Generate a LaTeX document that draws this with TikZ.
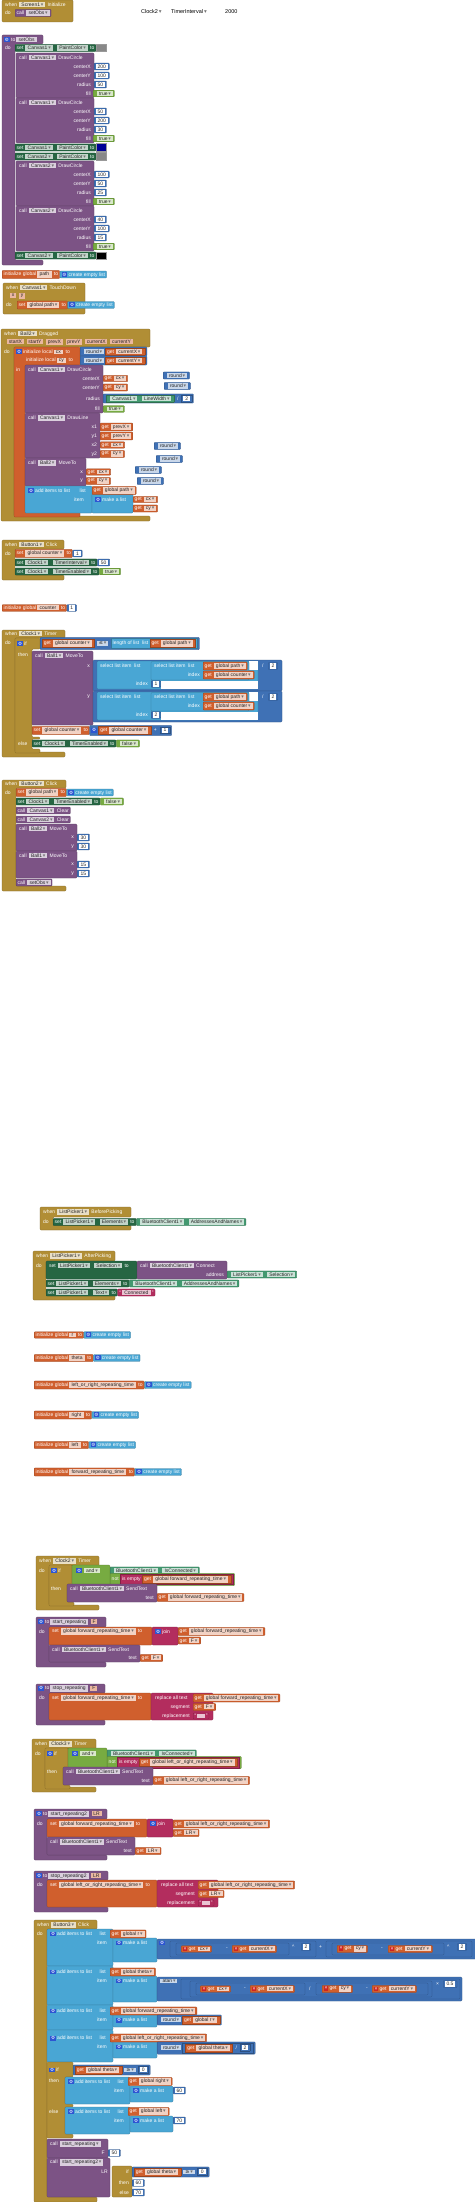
\documentclass[tikz,border=0pt]{standalone}
\usepackage{fontspec}
\setmainfont{Liberation Sans}
\newfontfamily\symf{DejaVu Sans}
\usetikzlibrary{positioning}
\definecolor{ev}{RGB}{177,142,53}
\definecolor{pr}{RGB}{124,83,133}
\definecolor{vr}{RGB}{208,95,45}
\definecolor{cs}{RGB}{38,102,67}
\definecolor{cg}{RGB}{67,153,112}
\definecolor{mt}{RGB}{63,113,181}
\definecolor{ls}{RGB}{73,166,212}
\definecolor{lg}{RGB}{119,171,65}
\definecolor{tt}{RGB}{179,45,94}
\definecolor{gearc}{RGB}{45,85,210}
\definecolor{errc}{RGB}{205,35,35}
\definecolor{swgray}{RGB}{136,136,136}
\definecolor{swblue}{RGB}{0,0,150}
\newcommand\fs{\fontsize{5}{6}\selectfont}
\setlength\fboxsep{0.8pt}
\setlength\fboxrule{0.25pt}
\newcommand\arr{\,{\symf\textcolor{black!55}{▾}}}
\newcommand\fld[2]{\hspace{2pt}\colorbox{#1!28!white}{\hspace{1.5pt}\textcolor{black!85}{#2}\arr\hspace{1pt}}\hspace{1pt}}
\newcommand\tfld[2]{\hspace{1pt}\colorbox{#1!28!white}{\hspace{1.5pt}\textcolor{black!85}{#2}\hspace{1.5pt}}\hspace{1pt}}
\newcommand\nfld[1]{\colorbox{white}{\hspace{1pt}\textcolor{black!85}{#1}\hspace{1pt}}}
\newcommand\inb[2]{\fcolorbox{#1!72!black}{#1}{\hspace{1pt}#2\hspace{1pt}}}
\newcommand\numb[1]{\inb{mt}{\nfld{#1}}}
\newcommand\getb[1]{\inb{vr}{get\fld{vr}{#1}}}
\newcommand\parf[1]{\colorbox{vr!45!white}{\hspace{1pt}\textcolor{black!85}{#1}\hspace{1pt}}}
\newcommand\gearb{\colorbox{gearc}{\textcolor{white}{\symf\fontsize{4.5}{4.5}\selectfont ⚙}}}
\newcommand\errb{\colorbox{errc}{\textcolor{white}{×}}}
% C-shaped block: left, top, head right, head bottom, column right, bar right, bottom, colour
\newcommand\cb[8]{\draw[bk=#8] (#1,#2) -| (#3,#4) -| (#5,#7-5) -| (#6,#7) -- (#1,#7) -- cycle;}
\newcommand\setcol[4]{%
  \node[lf=cs] (#1) at (15,#2) {set\fld{cs}{#3}\ \fld{cs}{PaintColor} to\hspace{3pt}};
  \node[sw=#4, right=0pt of #1] (#1c) {};}
\newcommand\dcirc[6]{%
  \draw[bk=pr] (16,#2) rectangle (94,#2+45);
  \node[tx] (#1) at (19,#2+4.5) {call\fld{pr}{#3} DrawCircle};
  \foreach \l/\v [count=\i] in {centerX/#4,centerY/#5,radius/#6}{
    \node[txr] (#1l\i) at (91,#2+4.5+9*\i) {\l};
    \node[lf=mt] (#1v\i) at (94,#2+4.5+9*\i) {\nfld{\v}};}
  \node[txr] (#1l4) at (91,#2+40.5) {fill};
  \node[lf=lg] (#1v4) at (93,#2+40.5) {\fld{lg}{true}};}
\newcommand\mvto[4]{%
  \draw[bk=pr] (16,#2) rectangle (77,#2+27);
  \node[tx] (#1) at (19,#2+4.5) {call\fld{pr}{#3} MoveTo};
  \node[txr] (#1x) at (74,#2+13.5) {x};
  \node[lf=mt] (#1xv) at (77,#2+13.5) {\nfld{#4}};
  \node[txr] (#1y) at (74,#2+22.5) {y};
  \node[lf=mt] (#1yv) at (77,#2+22.5) {\nfld{#4}};}
\newcommand\selarg[3]{%
  \draw[bk=mt] (93,#2) rectangle (282,#2+31);
  \draw[bk=ls] (97,#2+1) rectangle (258,#2+29);
  \fill[white] (161,#2+21) rectangle (258.3,#2+29.3);
  \fill[white] (249,#2+1) rectangle (258.3,#2+10);
  \draw[bk=ls] (151,#2+1.5) rectangle (249,#2+20);
  \node[tx] (#1a) at (100,#2+6) {select list item\ \ list};
  \node[tx] (#1b) at (154,#2+6) {select list item\ \ list};
  \node[lf=vr] (#1c) at (203,#2+6) {get\fld{vr}{global path}};
  \node[txr] (#1d) at (200,#2+15) {index};
  \node[lf=vr] (#1e) at (203,#2+15) {get\fld{vr}{global counter}};
  \node[txr] (#1f) at (148,#2+24) {index};
  \node[lf=mt] (#1g) at (151,#2+24) {\nfld{#3}};
  \node[tx] (#1h) at (262,#2+6) {/};
  \node[lf=mt] (#1i) at (268,#2+6) {\nfld{2}};}
\tikzset{
  bk/.style={fill=#1, draw=#1!72!black, line width=.25pt, rounded corners=1pt},
  lf/.style={anchor=west, inner xsep=1.6pt, inner ysep=.9pt, text=white, font=\fs,
    fill=#1, draw=#1!72!black, line width=.25pt, rounded corners=.8pt},
  tx/.style={anchor=west, inner sep=0pt, text=white, font=\fs},
  txr/.style={tx, anchor=east},
  sw/.style={anchor=west, fill=#1, draw=black!40, line width=.5pt,
    minimum width=10pt, minimum height=7.5pt, inner sep=0pt},
  ghost/.style={anchor=west, inner sep=0pt, font=\fontsize{5.5}{6}\selectfont}
}
\begin{document}
\begin{tikzpicture}[x=1pt,y=-1pt]
\useasboundingbox (0,0) rectangle (474,2202);
\fill[white] (0,0) rectangle (474,2202);
% Screen1.Initialize
\draw[bk=ev] (2,0) rectangle (73,22);
\node[tx] (scr) at (5,4.5) {when\fld{ev}{Screen1} Initialize};
\node[tx] (scrdo) at (5,13) {do};
\node[lf=pr] (scrc) at (15,13) {call\fld{pr}{setObs}};
\node[ghost] (gclk) at (141,12) {Clock2\arr};
\node[ghost] (gint) at (171,12) {TimerInterval\arr};
\node[ghost] (gval) at (225,12) {2000};
% to setObs
\cb{2}{35}{43}{44}{15}{43}{265}{pr}
\node[tx] (obs) at (4,39.5) {\gearb\ to\tfld{pr}{setObs}};
\node[tx] (obsdo) at (5,48) {do};
\setcol{oc1}{48}{Canvas1}{swgray}
\dcirc{oa}{53}{Canvas1}{200}{100}{50}
\dcirc{ob}{98}{Canvas1}{50}{200}{30}
\setcol{oc2}{147.5}{Canvas1}{swblue}
\setcol{oc3}{156.5}{Canvas2}{swgray}
\dcirc{od}{161}{Canvas2}{100}{50}{25}
\dcirc{oe}{206}{Canvas2}{40}{100}{15}
\setcol{oc4}{255.5}{Canvas2}{black}
% global path
\node[lf=vr] (igp) at (2,274.5) {initialize global\tfld{vr}{path} to\hspace{2pt}};
\node[lf=ls, right=0pt of igp] (igpv) {\gearb\ create empty list};
% Canvas1.TouchDown
\draw[bk=ev] (3,283) rectangle (85,314);
\node[tx] (td) at (6,287.5) {when\fld{ev}{Canvas1} TouchDown};
\node[tx] (tdp) at (10,296) {\parf{x}\ \ \parf{y}};
\node[tx] (tddo) at (6,305) {do};
\node[lf=vr] (tds) at (17,305) {set\fld{vr}{global path} to\hspace{2pt}};
\node[lf=ls, right=0pt of tds] (tdv) {\gearb\ create empty list};
% Ball2.Dragged
\cb{1}{329}{150}{347}{14}{150}{521}{ev}
\node[tx] (dr) at (4,333.5) {when\fld{ev}{Ball2} Dragged};
\node[tx] (drp) at (7,342) {\parf{startX}\ \ \parf{startY}\ \ \parf{prevX}\ \ \parf{prevY}\ \ \parf{currentX}\ \ \parf{currentY}};
\node[tx] (drdo) at (4,351.5) {do};
\cb{14}{347}{80}{365}{25}{80}{517}{vr}
\node[tx] (lc1) at (16,351.5) {\gearb\ initialize local\tfld{vr}{cx} to};
\node[tx] (lc2) at (26,360.5) {initialize local\tfld{vr}{cy} to};
\node[lf=mt] (lc1v) at (80,351.5) {\fld{mt}{round}\getb{currentX}};
\node[lf=mt] (lc2v) at (80,360.5) {\fld{mt}{round}\getb{currentY}};
\node[tx] (lcin) at (16,369.5) {in};
\draw[bk=pr] (25,365) rectangle (103,413);
\node[tx] (dc) at (28,369.5) {call\fld{pr}{Canvas1} DrawCircle};
\node[txr] (dcl1) at (100,378.5) {centerX};
\node[lf=vr] (dcv1) at (103,378.5) {get\fld{vr}{cx}};
\node[txr] (dcl2) at (100,387.5) {centerY};
\node[lf=vr] (dcv2) at (103,387.5) {get\fld{vr}{cy}};
\node[txr] (dcl3) at (100,398.5) {radius};
\node[lf=mt] (dcv3) at (103,398.5) {\ \inb{cg}{\fld{cg}{Canvas1}\ \fld{cg}{LineWidth}}\ \ /\ \ \numb{2}\ };
\node[txr] (dcl4) at (100,409) {fill};
\node[lf=lg] (dcv4) at (103,409) {\fld{lg}{true}};
\foreach \x/\y [count=\i] in {163/375.5,164/386,154/446,156/459,135/470,137/481}
  \node[lf=mt] (fr\i) at (\x,\y) {\fld{mt}{round}\hspace{3pt}};
\draw[bk=pr] (25,413) rectangle (100,458);
\node[tx] (dl) at (28,418) {call\fld{pr}{Canvas1} DrawLine};
\foreach \l/\v [count=\i] in {x1/prevX,y1/prevY,x2/cx,y2/cy}{
  \node[txr] (dll\i) at (97,418+9*\i) {\l};
  \node[lf=vr] (dlv\i) at (100,418+9*\i) {get\fld{vr}{\v}};}
\draw[bk=pr] (25,458) rectangle (86,486);
\node[tx] (mv) at (28,463) {call\fld{pr}{Ball2} MoveTo};
\node[txr] (mvl1) at (83,472) {x};
\node[lf=vr] (mvv1) at (86,472) {get\fld{vr}{cx}};
\node[txr] (mvl2) at (83,481) {y};
\node[lf=vr] (mvv2) at (86,481) {get\fld{vr}{cy}};
\draw[bk=ls] (25,486) rectangle (92,513);
\draw[bk=ls] (92,494) rectangle (133,513);
\node[tx] (ai) at (28,490.5) {\gearb\ add items to list};
\node[txr] (ail0) at (86,490.5) {list};
\node[lf=vr] (aiv) at (92,490.5) {get\fld{vr}{global path}};
\node[txr] (ail) at (84,499.5) {item};
\node[tx] (aim) at (95,499.5) {\gearb\ make a list};
\node[lf=vr] (aim1) at (133,499.5) {get\fld{vr}{cx}};
\node[lf=vr] (aim2) at (133,508.5) {get\fld{vr}{cy}};
% Button1.Click
\cb{2}{540}{64}{549}{15}{64}{580}{ev}
\node[tx] (b1) at (5,544.5) {when\fld{ev}{Button1} Click};
\node[tx] (b1do) at (5,553.5) {do};
\node[lf=vr] (b1s1) at (15,553.5) {set\fld{vr}{global counter} to\hspace{2pt}};
\node[lf=mt, right=0pt of b1s1] (b1v1) {\nfld{1}};
\node[lf=cs] (b1s2) at (15,562.5) {set\fld{cs}{Clock1}\ \fld{cs}{TimerInterval} to\hspace{2pt}};
\node[lf=mt, right=0pt of b1s2] (b1v2) {\nfld{50}};
\node[lf=cs] (b1s3) at (15,571.5) {set\fld{cs}{Clock1}\ \fld{cs}{TimerEnabled} to\hspace{2pt}};
\node[lf=lg, right=0pt of b1s3] (b1v3) {\fld{lg}{true}};
\node[lf=vr] (igc) at (2,608) {initialize global\tfld{vr}{counter} to\hspace{2pt}};
\node[lf=mt, right=0pt of igc] (igcv) {\nfld{1}};
% Clock1.Timer
\cb{2}{630}{65}{638}{15}{65}{757}{ev}
\node[tx] (c1) at (5,633.5) {when\fld{ev}{Clock1} Timer};
\node[tx] (c1do) at (5,643) {do};
\draw[bk=ev] (15,638) -| (40,649) -| (32,737) -| (40,739) -| (32,749) -| (40,753) -- (15,753) -- cycle;
\node[tx] (if1) at (17,643.5) {\gearb\ if};
\node[lf=mt] (if1c) at (40,643.5) {\getb{global counter}\fld{mt}{{\symf ≤}}\ \inb{ls}{length of list\ \ list \getb{global path}}};
\node[tx] (th1) at (18,655) {then};
\node[tx] (el1) at (18,743.5) {else};
\draw[bk=pr] (32,651) rectangle (93,725);
\node[tx] (m1) at (35,655.5) {call\fld{pr}{Ball1} MoveTo};
\node[txr] (m1x) at (90,666) {x};
\node[txr] (m1y) at (90,697) {y};
\selarg{sx}{660}{1}
\selarg{sy}{691}{2}
\node[lf=vr] (c1s) at (32,730.5) {set\fld{vr}{global counter} to\hspace{2pt}};
\node[lf=mt, right=0pt of c1s] (c1sv) {\gearb\ \getb{global counter}\ \ +\ \ \numb{1}\ };
\node[lf=cs] (c1e) at (32,743.5) {set\fld{cs}{Clock1}\ \fld{cs}{TimerEnabled} to\hspace{2pt}};
\node[lf=lg, right=0pt of c1e] (c1ev) {\fld{lg}{false}};
% Button2.Click
\cb{2}{780}{66}{788}{16}{66}{891}{ev}
\node[tx] (b2) at (5,783.5) {when\fld{ev}{Button2} Click};
\node[tx] (b2do) at (5,792.5) {do};
\node[lf=vr] (b2s1) at (16,792.5) {set\fld{vr}{global path} to\hspace{2pt}};
\node[lf=ls, right=0pt of b2s1] (b2v1) {\gearb\ create empty list};
\node[lf=cs] (b2s2) at (16,801.5) {set\fld{cs}{Clock1}\ \fld{cs}{TimerEnabled} to\hspace{2pt}};
\node[lf=lg, right=0pt of b2s2] (b2v2) {\fld{lg}{false}};
\node[lf=pr] (b2c1) at (16,810.5) {call\fld{pr}{Canvas1} Clear};
\node[lf=pr] (b2c2) at (16,819.5) {call\fld{pr}{Canvas2} Clear};
\mvto{b2m1}{824}{Ball2}{30}
\mvto{b2m2}{851}{Ball1}{15}
\node[lf=pr] (b2c3) at (16,882.5) {call\fld{pr}{setObs}};
% ListPicker1
\cb{40}{1207}{131}{1217}{53}{131}{1230}{ev}
\node[tx] (lp1) at (43,1212) {when\fld{ev}{ListPicker1} BeforePicking};
\node[tx] (lp1do) at (43,1222) {do};
\node[lf=cs] (lp1s) at (53,1222) {set\fld{cs}{ListPicker1}\ \fld{cs}{Elements} to\hspace{2pt}};
\node[lf=cg, right=0pt of lp1s] (lp1v) {\fld{cg}{BluetoothClient1}\ \fld{cg}{AddressesAndNames}};
\cb{33}{1251}{115}{1261}{46}{115}{1300}{ev}
\node[tx] (lp2) at (36,1256) {when\fld{ev}{ListPicker1} AfterPicking};
\node[tx] (lp2do) at (36,1265.5) {do};
\draw[bk=cs] (46,1261) rectangle (137,1279);
\node[tx] (lp2s1) at (49,1265.5) {set\fld{cs}{ListPicker1}\ \fld{cs}{Selection} to};
\draw[bk=pr] (137,1261) rectangle (227,1279);
\node[tx] (lp2c) at (140,1265.5) {call\fld{pr}{BluetoothClient1} Connect};
\node[txr] (lp2a) at (224,1274.5) {address};
\node[lf=cg] (lp2av) at (227,1274.5) {\fld{cg}{ListPicker1}\ \fld{cg}{Selection}};
\node[lf=cs] (lp2s2) at (46,1283.5) {set\fld{cs}{ListPicker1}\ \fld{cs}{Elements} to\hspace{2pt}};
\node[lf=cg, right=0pt of lp2s2] (lp2v2) {\fld{cg}{BluetoothClient1}\ \fld{cg}{AddressesAndNames}};
\node[lf=cs] (lp2s3) at (46,1292.5) {set\fld{cs}{ListPicker1}\ \fld{cs}{Text} to\hspace{2pt}};
\node[lf=tt, right=0pt of lp2s3] (lp2v3) {“\tfld{tt}{Connected}”};
% globals
\foreach \n/\y [count=\i] in {r/1335,theta/1358,left\_or\_right\_repeating\_time/1385,right/1415,left/1445,forward\_repeating\_time/1472}{
  \node[lf=vr] (ig\i) at (34,\y) {initialize global\tfld{vr}{\n} to\hspace{2pt}};
  \node[lf=ls, right=0pt of ig\i] (igv\i) {\gearb\ create empty list};}
% Clock2.Timer
\cb{36}{1556}{99}{1566}{49}{99}{1610}{ev}
\node[tx] (c2) at (39,1561) {when\fld{ev}{Clock2} Timer};
\node[tx] (c2do) at (39,1570.5) {do};
\draw[bk=ev] (49,1565) -| (72,1584) -| (67,1602) -| (74,1606) -- (49,1606) -- cycle;
\node[tx] (c2if) at (51,1570.5) {\gearb\ if};
\draw[bk=lg] (72,1565) rectangle (110,1585);
\node[tx] (c2and) at (76,1570.5) {\gearb\fld{lg}{and}};
\node[lf=cg] (c2con) at (110,1570.5) {\fld{cg}{BluetoothClient1}\ \fld{cg}{IsConnected}};
\node[lf=lg] (c2not) at (110,1579.5) {not \inb{tt}{is empty \getb{global forward\_repeating\_time}}};
\node[tx] (c2th) at (51,1588.5) {then};
\draw[bk=pr] (67,1584) rectangle (157,1602);
\node[tx] (c2c) at (70,1588.5) {call\fld{pr}{BluetoothClient1} SendText};
\node[txr] (c2t) at (154,1597.5) {text};
\node[lf=vr] (c2tv) at (157,1597.5) {get\fld{vr}{global forward\_repeating\_time}};
% start_repeating
\cb{36}{1617}{106}{1627}{49}{106}{1667}{pr}
\node[tx] (sr) at (38,1622) {\gearb\ to\tfld{pr}{start\_repeating}\ \parf{F}};
\node[tx] (srdo) at (39,1631.5) {do};
\draw[bk=vr] (49,1627) rectangle (152,1645);
\node[tx] (srs) at (52,1631.5) {set\fld{vr}{global forward\_repeating\_time} to};
\draw[bk=tt] (152,1627) rectangle (178,1645);
\node[tx] (srj) at (155,1631.5) {\gearb\ join};
\node[lf=vr] (srj1) at (178,1631.5) {get\fld{vr}{global forward\_repeating\_time}};
\node[lf=vr] (srj2) at (178,1640.5) {get\fld{vr}{F}};
\draw[bk=pr] (49,1645) rectangle (140,1662);
\node[tx] (src) at (52,1649.5) {call\fld{pr}{BluetoothClient1} SendText};
\node[txr] (srt) at (137,1658) {text};
\node[lf=vr] (srtv) at (140,1658) {get\fld{vr}{F}};
% stop_repeating
\cb{36}{1684}{105}{1693}{49}{105}{1725}{pr}
\node[tx] (sp) at (38,1688.5) {\gearb\ to\tfld{pr}{stop\_repeating}\ \parf{F}};
\node[tx] (spdo) at (39,1698) {do};
\draw[bk=vr] (49,1693) rectangle (151,1720);
\node[tx] (sps) at (52,1698) {set\fld{vr}{global forward\_repeating\_time} to};
\draw[bk=tt] (151,1693) rectangle (213,1720);
\node[tx] (spr) at (155,1698) {replace all text};
\node[lf=vr] (spr1) at (193,1698) {get\fld{vr}{global forward\_repeating\_time}};
\node[txr] (spr2l) at (190,1707) {segment};
\node[lf=vr] (spr2) at (193,1707) {get\fld{vr}{F}};
\node[txr] (spr3l) at (190,1716) {replacement};
\node[lf=tt] (spr3) at (193,1716) {“\tfld{tt}{\phantom{n}}”};
% Clock3.Timer
\cb{32}{1739}{96}{1749}{45}{96}{1792}{ev}
\node[tx] (c3) at (35,1744) {when\fld{ev}{Clock3} Timer};
\node[tx] (c3do) at (35,1753.5) {do};
\draw[bk=ev] (45,1748) -| (68,1767) -| (63,1785) -| (70,1789) -- (45,1789) -- cycle;
\node[tx] (c3if) at (47,1753.5) {\gearb\ if};
\draw[bk=lg] (68,1748) rectangle (107,1768);
\node[tx] (c3and) at (72,1753.5) {\gearb\fld{lg}{and}};
\node[lf=cg] (c3con) at (107,1753.5) {\fld{cg}{BluetoothClient1}\ \fld{cg}{IsConnected}};
\node[lf=lg] (c3not) at (107,1762.5) {not \inb{tt}{is empty \getb{global left\_or\_right\_repeating\_time}}};
\node[tx] (c3th) at (47,1771.5) {then};
\draw[bk=pr] (63,1767) rectangle (153,1785);
\node[tx] (c3c) at (66,1771.5) {call\fld{pr}{BluetoothClient1} SendText};
\node[txr] (c3t) at (150,1780.5) {text};
\node[lf=vr] (c3tv) at (153,1780.5) {get\fld{vr}{global left\_or\_right\_repeating\_time}};
% start_repeating2
\cb{34}{1809}{107}{1819}{47}{107}{1860}{pr}
\node[tx] (sr2) at (36,1814) {\gearb\ to\tfld{pr}{start\_repeating2}\ \parf{LR}};
\node[tx] (sr2do) at (37,1824) {do};
\draw[bk=vr] (47,1819) rectangle (147,1837);
\node[tx] (sr2s) at (50,1824) {set\fld{vr}{global forward\_repeating\_time} to};
\draw[bk=tt] (147,1819) rectangle (173,1837);
\node[tx] (sr2j) at (150,1824) {\gearb\ join};
\node[lf=vr] (sr2j1) at (173,1824) {get\fld{vr}{global left\_or\_right\_repeating\_time}};
\node[lf=vr] (sr2j2) at (173,1833) {get\fld{vr}{LR}};
\draw[bk=pr] (47,1837) rectangle (135,1855);
\node[tx] (sr2c) at (50,1842) {call\fld{pr}{BluetoothClient1} SendText};
\node[txr] (sr2t) at (132,1851) {text};
\node[lf=vr] (sr2tv) at (135,1851) {get\fld{vr}{LR}};
% stop_repeating2
\cb{34}{1871}{108}{1880}{47}{108}{1912}{pr}
\node[tx] (sp2) at (36,1876) {\gearb\ to\tfld{pr}{stop\_repeating2}\ \parf{LR}};
\node[tx] (sp2do) at (37,1885) {do};
\draw[bk=vr] (47,1880) rectangle (157,1907);
\node[tx] (sp2s) at (50,1885) {set\fld{vr}{global left\_or\_right\_repeating\_time} to};
\draw[bk=tt] (157,1880) rectangle (218,1907);
\node[tx] (sp2r) at (161,1885) {replace all text};
\node[lf=vr] (sp2r1) at (198,1885) {get\fld{vr}{global left\_or\_right\_repeating\_time}};
\node[txr] (sp2r2l) at (195,1894) {segment};
\node[lf=vr] (sp2r2) at (198,1894) {get\fld{vr}{LR}};
\node[txr] (sp2r3l) at (195,1903) {replacement};
\node[lf=tt] (sp2r3) at (198,1903) {“\tfld{tt}{\phantom{n}}”};
% Button3.Click
\cb{34}{1920}{97}{1929}{47}{97}{2202}{ev}
\node[tx] (b3) at (37,1925) {when\fld{ev}{Button3} Click};
\node[tx] (b3do) at (37,1934) {do};
\draw[bk=ls] (47,1929) rectangle (113,1966);
\draw[bk=ls] (113,1938) rectangle (157,1962);
\node[tx] (a1) at (50,1934) {\gearb\ add items to list};
\node[txr] (a1l) at (106,1934) {list};
\node[lf=vr] (a1v) at (110,1934) {get\fld{vr}{global r}};
\node[txr] (a1i) at (107,1943) {item};
\node[tx] (a1m) at (116,1943) {\gearb\ make a list};
\draw[bk=mt] (157,1939) rectangle (480,1959);
\node[tx] (a1g) at (159,1943) {\gearb};
\draw[bk=mt] (170,1941) rectangle (316,1957);
\draw[bk=mt] (176,1943) rectangle (289,1955);
\draw[bk=mt] (326,1941) rectangle (472,1957);
\draw[bk=mt] (332,1943) rectangle (444,1955);
\node[lf=vr] (a1e1) at (181,1949) {\errb\ get\fld{vr}{cx}};
\node[tx] (a1m1) at (226,1949) {-};
\node[lf=vr] (a1e2) at (232,1949) {\errb\ get\fld{vr}{currentX}};
\node[tx] (a1p1) at (292,1947) {\textasciicircum};
\node[lf=mt] (a1n1) at (301,1947) {\nfld{2}};
\node[tx] (a1pl) at (319,1947) {+};
\node[lf=vr] (a1e3) at (337,1949) {\errb\ get\fld{vr}{cy}};
\node[tx] (a1m2) at (381,1949) {-};
\node[lf=vr] (a1e4) at (388,1949) {\errb\ get\fld{vr}{currentY}};
\node[tx] (a1p2) at (447,1947) {\textasciicircum};
\node[lf=mt] (a1n2) at (457,1947) {\nfld{2}};
\draw[bk=ls] (47,1966) rectangle (113,2005);
\draw[bk=ls] (113,1976) rectangle (157,2002);
\node[tx] (a2) at (50,1972) {\gearb\ add items to list};
\node[txr] (a2l) at (106,1972) {list};
\node[lf=vr] (a2v) at (110,1972) {get\fld{vr}{global theta}};
\node[txr] (a2i) at (107,1981) {item};
\node[tx] (a2m) at (116,1981) {\gearb\ make a list};
\draw[bk=mt] (157,1977) rectangle (462,2001);
\node[tx] (a2f) at (158,1981) {\fld{mt}{atan}};
\draw[bk=mt] (181,1979) rectangle (460,1999);
\draw[bk=mt] (190,1981) rectangle (432,1997);
\draw[bk=mt] (196,1983) rectangle (305,1995);
\draw[bk=mt] (316,1983) rectangle (428,1995);
\node[lf=vr] (a2e1) at (200,1989) {\errb\ get\fld{vr}{cx}};
\node[tx] (a2m1) at (244,1989) {-};
\node[lf=vr] (a2e2) at (250,1989) {\errb\ get\fld{vr}{currentX}};
\node[tx] (a2d) at (309,1989) {/};
\node[lf=vr] (a2e3) at (322,1989) {\errb\ get\fld{vr}{cy}};
\node[tx] (a2m2) at (366,1989) {-};
\node[lf=vr] (a2e4) at (372,1989) {\errb\ get\fld{vr}{currentY}};
\node[tx] (a2x) at (436,1984) {×};
\node[lf=mt] (a2n) at (443,1984) {\nfld{0.5}};
\draw[bk=ls] (47,2005) rectangle (113,2030);
\draw[bk=ls] (113,2014) rectangle (157,2027);
\node[tx] (a3) at (50,2011) {\gearb\ add items to list};
\node[txr] (a3l) at (106,2011) {list};
\node[lf=vr] (a3v) at (110,2011) {get\fld{vr}{global forward\_repeating\_time}};
\node[txr] (a3i) at (107,2020) {item};
\node[tx] (a3m) at (116,2020) {\gearb\ make a list};
\node[lf=mt] (a3e) at (157,2020) {\fld{mt}{round}\getb{global r}};
\draw[bk=ls] (47,2030) rectangle (113,2062);
\draw[bk=ls] (113,2041) rectangle (157,2058);
\node[tx] (a4) at (50,2038) {\gearb\ add items to list};
\node[txr] (a4l) at (106,2038) {list};
\node[lf=vr] (a4v) at (110,2038) {get\fld{vr}{global left\_or\_right\_repeating\_time}};
\node[txr] (a4i) at (107,2047) {item};
\node[tx] (a4m) at (116,2047) {\gearb\ make a list};
\node[lf=mt] (a4e) at (157,2048) {\fld{mt}{round}\inb{mt}{\ \getb{global theta}\ \ /\ \ \numb{2}\ }};
\draw[bk=ev] (47,2062) -| (73,2077) -| (65,2104) -| (73,2107) -| (65,2134) -| (73,2138) -- (47,2138) -- cycle;
\node[tx] (b3if) at (49,2070) {\gearb\ if};
\node[lf=mt] (b3ifc) at (73,2070) {\getb{global theta}\fld{mt}{{\symf ≥}}\ \numb{0}};
\node[tx] (b3th) at (49,2081) {then};
\node[tx] (b3el) at (49,2111.5) {else};
\foreach \y/\n/\v [count=\i] in {2077/right/60,2107/left/70}{
  \draw[bk=ls] (65,\y) rectangle (130,\y+27);
  \draw[bk=ls] (130,\y+9) rectangle (173,\y+25);
  \node[tx] (ae\i) at (68,\y+4.5) {\gearb\ add items to list};
  \node[txr] (ael\i) at (124,\y+4.5) {list};
  \node[lf=vr] (aev\i) at (128,\y+4.5) {get\fld{vr}{global \n}};
  \node[txr] (aei\i) at (124,\y+13.5) {item};
  \node[tx] (aem\i) at (133,\y+13.5) {\gearb\ make a list};
  \node[lf=mt] (aen\i) at (173,\y+13.5) {\nfld{\v}};}
\draw[bk=pr] (47,2139) rectangle (108,2158);
\node[tx] (cs1) at (50,2144) {call\fld{pr}{start\_repeating}};
\node[txr] (cs1l) at (105,2153) {F};
\node[lf=mt] (cs1v) at (108,2153) {\nfld{50}};
\draw[bk=pr] (47,2158) rectangle (110,2197);
\node[tx] (cs2) at (50,2162.5) {call\fld{pr}{start\_repeating2}};
\node[txr] (cs2l) at (108,2171.5) {LR};
\draw[bk=ev] (112,2166) rectangle (132,2197);
\node[txr] (cs2if) at (129,2171.5) {if};
\node[txr] (cs2th) at (129,2183) {then};
\node[txr] (cs2el) at (129,2192.5) {else};
\node[lf=mt] (cs2c) at (132,2172) {\getb{global theta}\fld{mt}{{\symf ≥}}\ \numb{0}};
\node[lf=mt] (cs2a) at (132,2183) {\nfld{60}};
\node[lf=mt] (cs2b) at (132,2192.5) {\nfld{70}};
\end{tikzpicture}
\end{document}
